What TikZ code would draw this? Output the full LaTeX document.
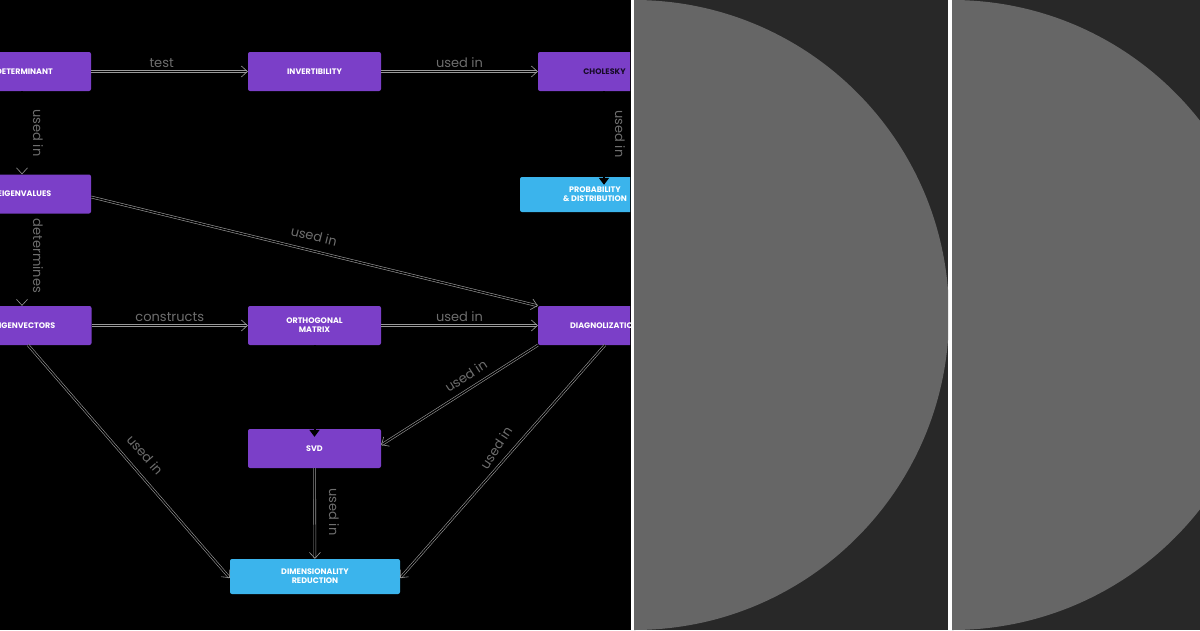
\documentclass[tikz,border=0pt]{standalone}
\usepackage{fontspec}
\setmainfont{Poppins}
\usetikzlibrary{arrows.meta}
\definecolor{purp}{HTML}{7B3FC8}
\definecolor{skyb}{HTML}{3BB4EC}
\definecolor{panel}{HTML}{282828}
\definecolor{disc}{HTML}{666666}
\definecolor{lbl}{HTML}{6E6E6E}
\tikzset{
 box/.style={rounded corners=2pt,minimum width=133pt,minimum height=39pt,fill=purp,text=white,font=\bfseries\fontsize{8}{9}\selectfont,align=center,inner sep=1pt},
 bbox/.style={box,fill=skyb},
 link/.style={draw=gray!80,double=black,double distance=1.4pt,line width=0.6pt,-{Straight Barb[length=6pt,width=11pt]}},
 dlink/.style={draw=black,line width=2pt,shorten >=-8pt,-{Triangle[length=7pt,width=10pt]}},
 lab/.style={text=lbl,font=\fontsize{13}{14}\selectfont,inner sep=1pt}
}
\begin{document}
\begin{tikzpicture}[x=1pt,y=-1pt]
\useasboundingbox (0,0) rectangle (1200,630);
\fill[black] (0,0) rectangle (631,630);
\fill[white] (631,0) rectangle (634,630);
\fill[panel] (634,0) rectangle (948,630);
\fill[white] (948,0) rectangle (952,630);
\fill[panel] (952,0) rectangle (1200,630);
\begin{scope}
\clip (634,0) rectangle (948,630);
\fill[disc] (634,315) circle (315);
\end{scope}
\begin{scope}
\clip (952,0) rectangle (1200,630);
\fill[disc] (952,315) circle (315);
\end{scope}
\begin{scope}
\clip (0,0) rectangle (630,630);
\node[box] (det) at (24.5,71.5) {DETERMINANT};
\node[box] (inv) at (314.5,71.5) {INVERTIBILITY};
\node[box,text=black!80!purp] (chol) at (604.5,71.5) {CHOLESKY};
\node[box] (eval) at (24.5,194) {EIGENVALUES};
\node[bbox,minimum width=150pt,minimum height=35pt] (prob) at (595,194.5) {PROBABILITY\\\& DISTRIBUTION};
\node[box] (evec) at (25,325.5) {EIGENVECTORS};
\node[box] (orth) at (314.5,325.5) {ORTHOGONAL\\MATRIX};
\node[box] (diag) at (604.5,325.5) {DIAGNOLIZATION};
\node[box] (svd) at (314.5,448.5) {SVD};
\node[bbox,minimum width=170pt,minimum height=35pt] (dim) at (315,576.5) {DIMENSIONALITY\\REDUCTION};
\draw[link] (det) -- node[lab,above=3pt,pos=0.45] {test} (inv);
\draw[link] (inv) -- node[lab,above=3pt] {used in} (chol);
\draw[dlink] (chol.south-|604,0) -- (prob.north-|604,0);
\node[lab,rotate=-90] at (620,134) {used in};
\draw[link] (det.south-|22,0) -- (eval.north-|22,0);
\node[lab,rotate=-90] at (38,133) {used in};
\draw[link] (eval.south-|22,0) -- (evec.north-|22,0);
\node[lab,rotate=-90] at (38,256) {determines};
\draw[link] (eval.east|-0,197) -- (diag.north west);
\node[lab,rotate=-13.7] at (314,236) {used in};
\draw[link] (evec) -- node[lab,above=3pt] {constructs} (orth);
\draw[link] (orth) -- node[lab,above=3pt] {used in} (diag);
\draw[dlink] (orth) -- (svd);
\draw[link] (diag.south west) -- (svd.east|-0,445);
\node[lab,rotate=33] at (466,376) {used in};
\coordinate (es) at (28,345);
\draw[link] (es) -- (dim.west|-0,578);
\node[lab,rotate=-49] at (145,455) {used in};
\coordinate (ds) at (605,345);
\draw[link] (ds) -- (dim.east|-0,578);
\node[lab,rotate=57] at (496,448) {used in};
\draw[link] (svd) -- (dim);
\node[lab,rotate=-90] at (334,512) {used in};
\end{scope}
\end{tikzpicture}
\end{document}
